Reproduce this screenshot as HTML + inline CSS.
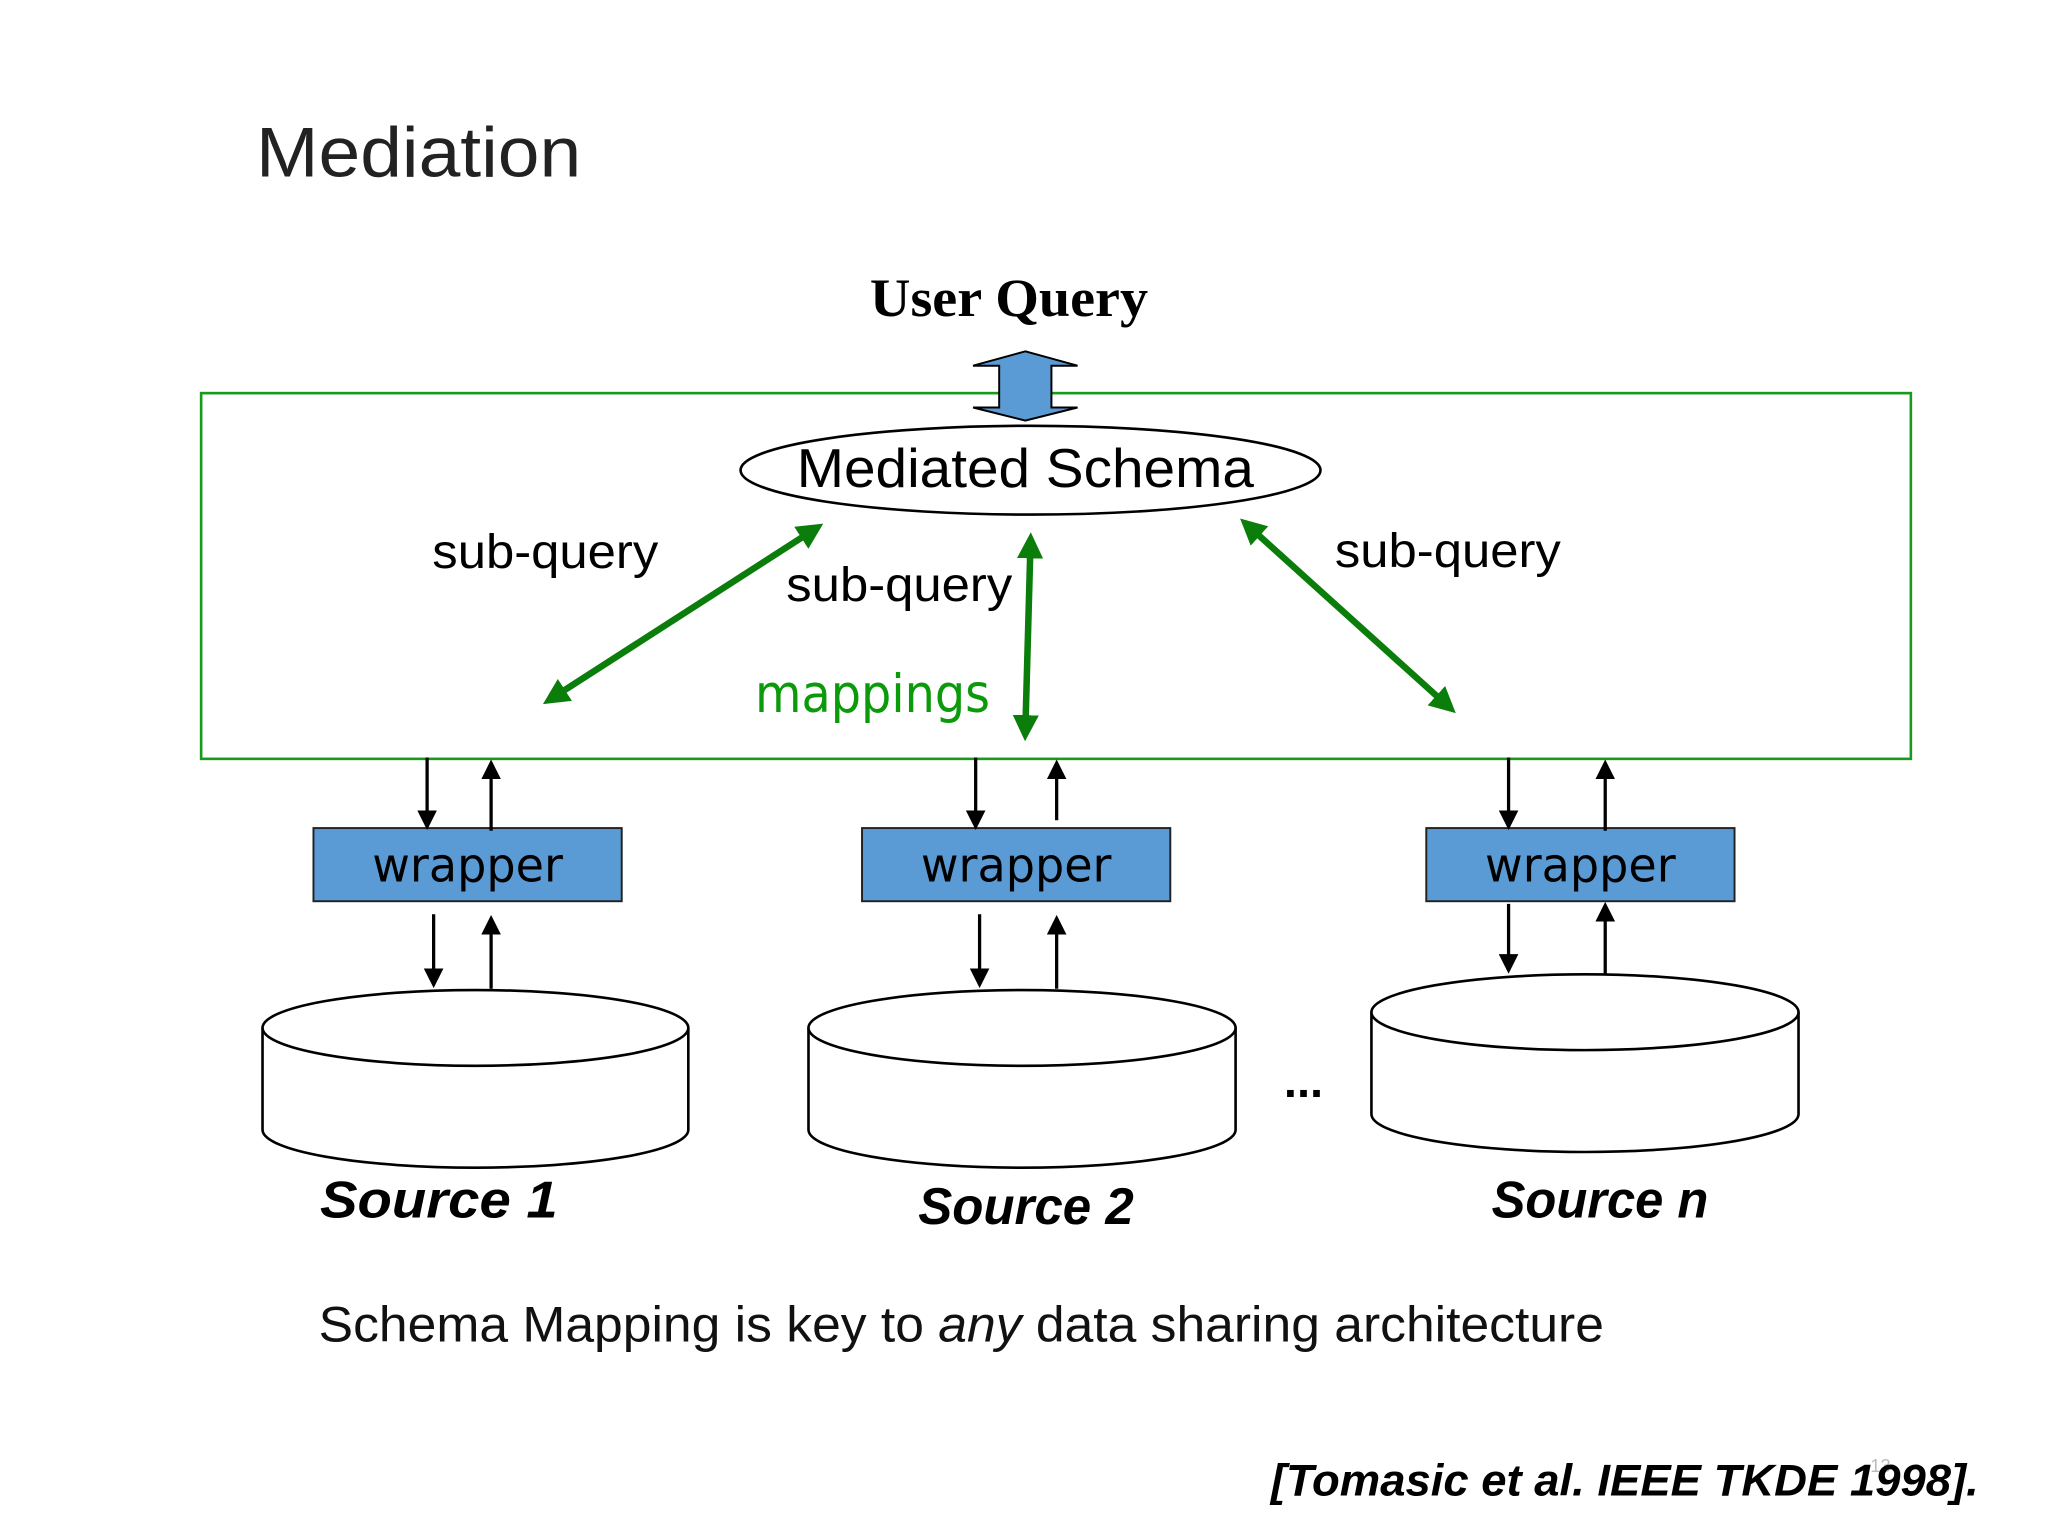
<!DOCTYPE html>
<html><head><meta charset="utf-8"><style>
html,body{margin:0;padding:0;background:#fff;}
svg{display:block;}
</style></head><body>
<svg width="2048" height="1536" viewBox="0 0 1568 1176" xmlns="http://www.w3.org/2000/svg">
<defs>
<marker id="g" markerWidth="4" markerHeight="4" refX="2.5" refY="2" orient="auto-start-reverse" markerUnits="strokeWidth"><path d="M0,0 L4,2 L0,4 z" fill="#0a7d0a"/></marker>
<marker id="k" markerWidth="6" markerHeight="6" refX="5" refY="3" orient="auto" markerUnits="strokeWidth"><path d="M0,0 L6,3 L0,6 z" fill="#000"/></marker>
</defs>
<rect width="1568" height="1176" fill="#fff"/>
<text x="196" y="135" font-family="Liberation Sans, sans-serif" font-size="54" fill="#222" textLength="249" lengthAdjust="spacingAndGlyphs">Mediation</text>
<text x="666" y="242" font-family="Liberation Serif, serif" font-weight="bold" font-size="41" textLength="213" lengthAdjust="spacingAndGlyphs">User Query</text>
<rect x="154" y="301" width="1309" height="280" fill="none" stroke="#1a9a1a" stroke-width="2"/>
<path d="M785,269 L825,280 L805,280 L805,312 L825,312 L785,322 L745,312 L765,312 L765,280 L745,280 Z" fill="#5b9bd5" stroke="#000" stroke-width="1.5"/>
<ellipse cx="789" cy="360" rx="222" ry="34" fill="#fff" stroke="#000" stroke-width="2"/>
<text x="610" y="373" font-family="Liberation Sans, sans-serif" font-size="42" textLength="350" lengthAdjust="spacingAndGlyphs">Mediated Schema</text>
<g stroke="#0a7d0a" stroke-width="5" marker-start="url(#g)" marker-end="url(#g)">
<line x1="422" y1="535" x2="624" y2="405"/>
<line x1="789" y1="415" x2="785" y2="560"/>
<line x1="955" y1="402" x2="1109" y2="541"/>
</g>
<g font-family="Liberation Sans, sans-serif" font-size="37">
<text x="331" y="435" textLength="173" lengthAdjust="spacingAndGlyphs">sub-query</text>
<text x="602" y="460" textLength="173" lengthAdjust="spacingAndGlyphs">sub-query</text>
<text x="1022" y="434" textLength="173" lengthAdjust="spacingAndGlyphs">sub-query</text>
</g>
<text x="578" y="545" font-family="'Comic Sans MS','DejaVu Sans',sans-serif" font-size="40" fill="#0a9a0a" textLength="180" lengthAdjust="spacingAndGlyphs">mappings</text>
<g fill="#5b9bd5" stroke="#222" stroke-width="1.5">
<rect x="240" y="634" width="236" height="56"/>
<rect x="660" y="634" width="236" height="56"/>
<rect x="1092" y="634" width="236" height="56"/>
</g>
<g font-family="'Comic Sans MS','DejaVu Sans',sans-serif" font-size="36">
<text x="285" y="675" textLength="146" lengthAdjust="spacingAndGlyphs">wrapper</text>
<text x="705" y="675" textLength="146" lengthAdjust="spacingAndGlyphs">wrapper</text>
<text x="1137" y="675" textLength="146" lengthAdjust="spacingAndGlyphs">wrapper</text>
</g>
<g stroke="#000" stroke-width="2.5" marker-end="url(#k)">
<line x1="327" y1="580" x2="327" y2="633"/>
<line x1="376" y1="636" x2="376" y2="584"/>
<line x1="332" y1="700" x2="332" y2="754"/>
<line x1="376" y1="757" x2="376" y2="703"/>
<line x1="747" y1="580" x2="747" y2="633"/>
<line x1="809" y1="628" x2="809" y2="584"/>
<line x1="750" y1="700" x2="750" y2="754"/>
<line x1="809" y1="757" x2="809" y2="703"/>
<line x1="1155" y1="580" x2="1155" y2="633"/>
<line x1="1229" y1="636" x2="1229" y2="584"/>
<line x1="1155" y1="692" x2="1155" y2="743"/>
<line x1="1229" y1="746" x2="1229" y2="693"/>
</g>
<g fill="#fff" stroke="#000" stroke-width="2">
<path d="M201,787 L201,865 A163,29 0 0 0 527,865 L527,787"/>
<ellipse cx="364" cy="787" rx="163" ry="29"/>
<path d="M619,787 L619,865 A163.5,29 0 0 0 946,865 L946,787"/>
<ellipse cx="782.5" cy="787" rx="163.5" ry="29"/>
<path d="M1050,775 L1050,853 A163.5,29 0 0 0 1377,853 L1377,775"/>
<ellipse cx="1213.5" cy="775" rx="163.5" ry="29"/>
</g>
<text x="998" y="840" text-anchor="middle" font-family="Liberation Sans, sans-serif" font-weight="bold" font-size="36">...</text>
<g font-family="Liberation Sans, sans-serif" font-weight="bold" font-style="italic" font-size="40">
<text x="245" y="932" textLength="182" lengthAdjust="spacingAndGlyphs">Source 1</text>
<text x="703" y="937" textLength="165" lengthAdjust="spacingAndGlyphs">Source 2</text>
<text x="1142" y="932" textLength="166" lengthAdjust="spacingAndGlyphs">Source n</text>
</g>
<text x="244" y="1027" font-family="Liberation Sans, sans-serif" font-size="38" fill="#111" textLength="984" lengthAdjust="spacingAndGlyphs">Schema Mapping is key to <tspan font-style="italic">any</tspan> data sharing architecture</text>
<text x="1432" y="1127" font-family="Liberation Sans, sans-serif" font-size="14" fill="#bbb">13</text>
<text x="973" y="1145" font-family="Liberation Sans, sans-serif" font-weight="bold" font-style="italic" font-size="34" textLength="542" lengthAdjust="spacingAndGlyphs">[Tomasic et al. IEEE TKDE 1998].</text>
</svg>
</body></html>
